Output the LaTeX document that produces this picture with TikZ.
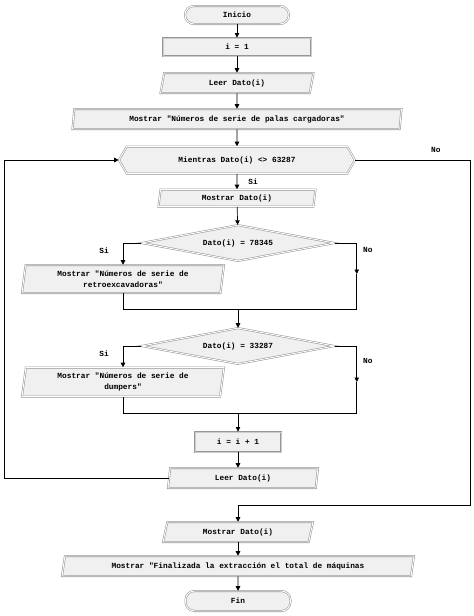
\documentclass[tikz,border=0pt]{standalone}
\usepackage{fontspec}
\newfontfamily\flowfont{Liberation Mono}
\usetikzlibrary{shapes.geometric,shapes.symbols,arrows,arrows.meta,positioning,calc}
\definecolor{FlowGris}{HTML}{F0F0F0}
\definecolor{FlowBorde}{HTML}{979797}
\newcommand{\flujo}{\flowfont\bfseries\fontsize{7.8}{11}\selectfont}
\tikzstyle{base} = [draw=FlowBorde, 
line width=0.55pt, 
double=white, 
double distance=0.9pt, 
fill=FlowGris, 
inner sep=0pt, 
text centered, 
align=center, 
font=\flujo]
\tikzstyle{startstop} = [base, rectangle, rounded corners=9pt, 
minimum width=104pt, 
minimum height=18pt]
\tikzstyle{process} = [base, rectangle, 
line width=0.9pt, 
double=FlowGris!60!FlowBorde, 
double distance=0.9pt, 
minimum height=18pt]
\tikzstyle{io} = [base, trapezium, 
trapezium stretches body=true, 
trapezium left angle=70, 
trapezium right angle=110, 
minimum height=20pt]
\tikzstyle{mientras} = [base, signal, 
signal to=west and east, 
signal pointer angle=120, 
minimum width=236pt, 
minimum height=27pt]
\tikzstyle{decision} = [base, diamond, 
aspect=6, 
minimum width=193pt, 
minimum height=36pt]
\tikzstyle{etiqueta} = [font=\flujo, inner sep=0pt]
\tikzstyle{conector} = [line width=0.7pt]
\tikzstyle{arrow} = [conector,->,>={Triangle[length=4.5pt,width=4.5pt]}]
\begin{document}
\begin{tikzpicture}[x=1pt, y=1pt, node distance=36pt]
                \useasboundingbox (0,0) rectangle (474,-616);
                \node[startstop] (start) at (237,-15) {Inicio};
                \node[process, minimum width=148pt, below of=start, yshift=4pt] (init) {i = 1};
                \node[io, minimum width=153pt, trapezium left angle=63, trapezium right angle=117, below of=init] (inp) {Leer Dato(i)};
                \node[io, minimum width=329pt, trapezium left angle=76, trapezium right angle=104, below of=inp] (msgpalas) {Mostrar "Números de serie de palas cargadoras"};
                \node[mientras, below of=msgpalas, yshift=-5pt] (loop) {Mientras Dato(i) <> 63287};
                \node[io, minimum width=157pt, minimum height=17pt, trapezium left angle=74, trapezium right angle=106, below of=loop, yshift=-2pt] (showdato) {Mostrar Dato(i)};
                \node[decision, below of=showdato, xshift=1pt, yshift=-9pt] (esretro) {Dato(i) = 78345};
                \node[io, minimum width=202pt, minimum height=28pt, trapezium left angle=78, trapezium right angle=102, below of=esretro, xshift=-115pt] (msgretro) {Mostrar "Números de serie de\\retroexcavadoras"};
                \node[decision, below of=esretro, yshift=-67pt] (esdump) {Dato(i) = 33287};
                \node[io, minimum width=202pt, minimum height=29pt, trapezium left angle=78, trapezium right angle=102, below of=esdump, xshift=-115pt] (msgdump) {Mostrar "Números de serie de\\dumpers"};
                \node[process, minimum width=86pt, minimum height=20pt, below of=esdump, yshift=-60pt] (inc) {i = i + 1};
                \node[io, minimum width=150pt, trapezium left angle=73, trapezium right angle=107, below of=inc, xshift=5pt] (inp2) {Leer Dato(i)};
                \node[io, minimum width=150pt, trapezium left angle=59, trapezium right angle=121, below of=inp2, xshift=-5pt, yshift=-18pt] (showfin) {Mostrar Dato(i)};
                \node[io, minimum width=352pt, trapezium left angle=68, trapezium right angle=112, below of=showfin, yshift=2pt] (msgfin) {Mostrar "Finalizada la extracción el total de máquinas};
                \node[startstop, minimum width=105pt, minimum height=20pt, below of=msgfin, yshift=1pt] (stop) {Fin};
                \coordinate[below of=esretro, node distance=66pt] (juntaretro);
                \coordinate[below of=esdump, node distance=67pt] (juntadump);

                \draw[arrow] (start) -- (init);
                \draw[arrow] (init) -- (inp);
                \draw[arrow] (inp) -- (msgpalas);
                \draw[arrow] (msgpalas) -- (loop);
                \draw[arrow] (loop) -- node[etiqueta, xshift=16pt] {Si} (showdato);
                \draw[arrow] (showdato) -- (esretro);
                \draw[arrow] (esretro.west) -| node[etiqueta, pos=0.5, xshift=-19pt, yshift=-8pt] {Si} (msgretro.north);
                \draw[conector] (esretro.east) -- ++(22,0) coordinate (retrono) node[etiqueta, xshift=11pt, yshift=-7pt] {No};
                \draw[arrow] (retrono) -- ++(0,-31) coordinate (retromid);
                \draw[conector] (retromid) -- (retromid |- juntaretro) -| (msgretro.south);
                \draw[arrow] (juntaretro) -- (esdump);
                \draw[arrow] (esdump.west) -| node[etiqueta, pos=0.5, xshift=-19pt, yshift=-8pt] {Si} (msgdump.north);
                \draw[conector] (esdump.east) -- ++(22,0) coordinate (dumpno) node[etiqueta, xshift=11pt, yshift=-15pt] {No};
                \draw[arrow] (dumpno) -- ++(0,-36) coordinate (dumpmid);
                \draw[conector] (dumpmid) -- (dumpmid |- juntadump) -| (msgdump.south);
                \draw[arrow] (juntadump) -- (inc);
                \draw[arrow] (inc.south) -- (inc.south |- inp2.north);
                \draw[arrow] (inp2.west) -- ++(-164,0) |- (loop.west);
                \draw[arrow] (loop.east) -- node[etiqueta, pos=0.7, yshift=10pt] {No} ++(115,0) -- ++(0,-345) -| (showfin.north);
                \draw[arrow] (showfin.south) -- (showfin.south |- msgfin.north);
                \draw[arrow] (msgfin) -- (stop);
            \end{tikzpicture}
\end{document}
